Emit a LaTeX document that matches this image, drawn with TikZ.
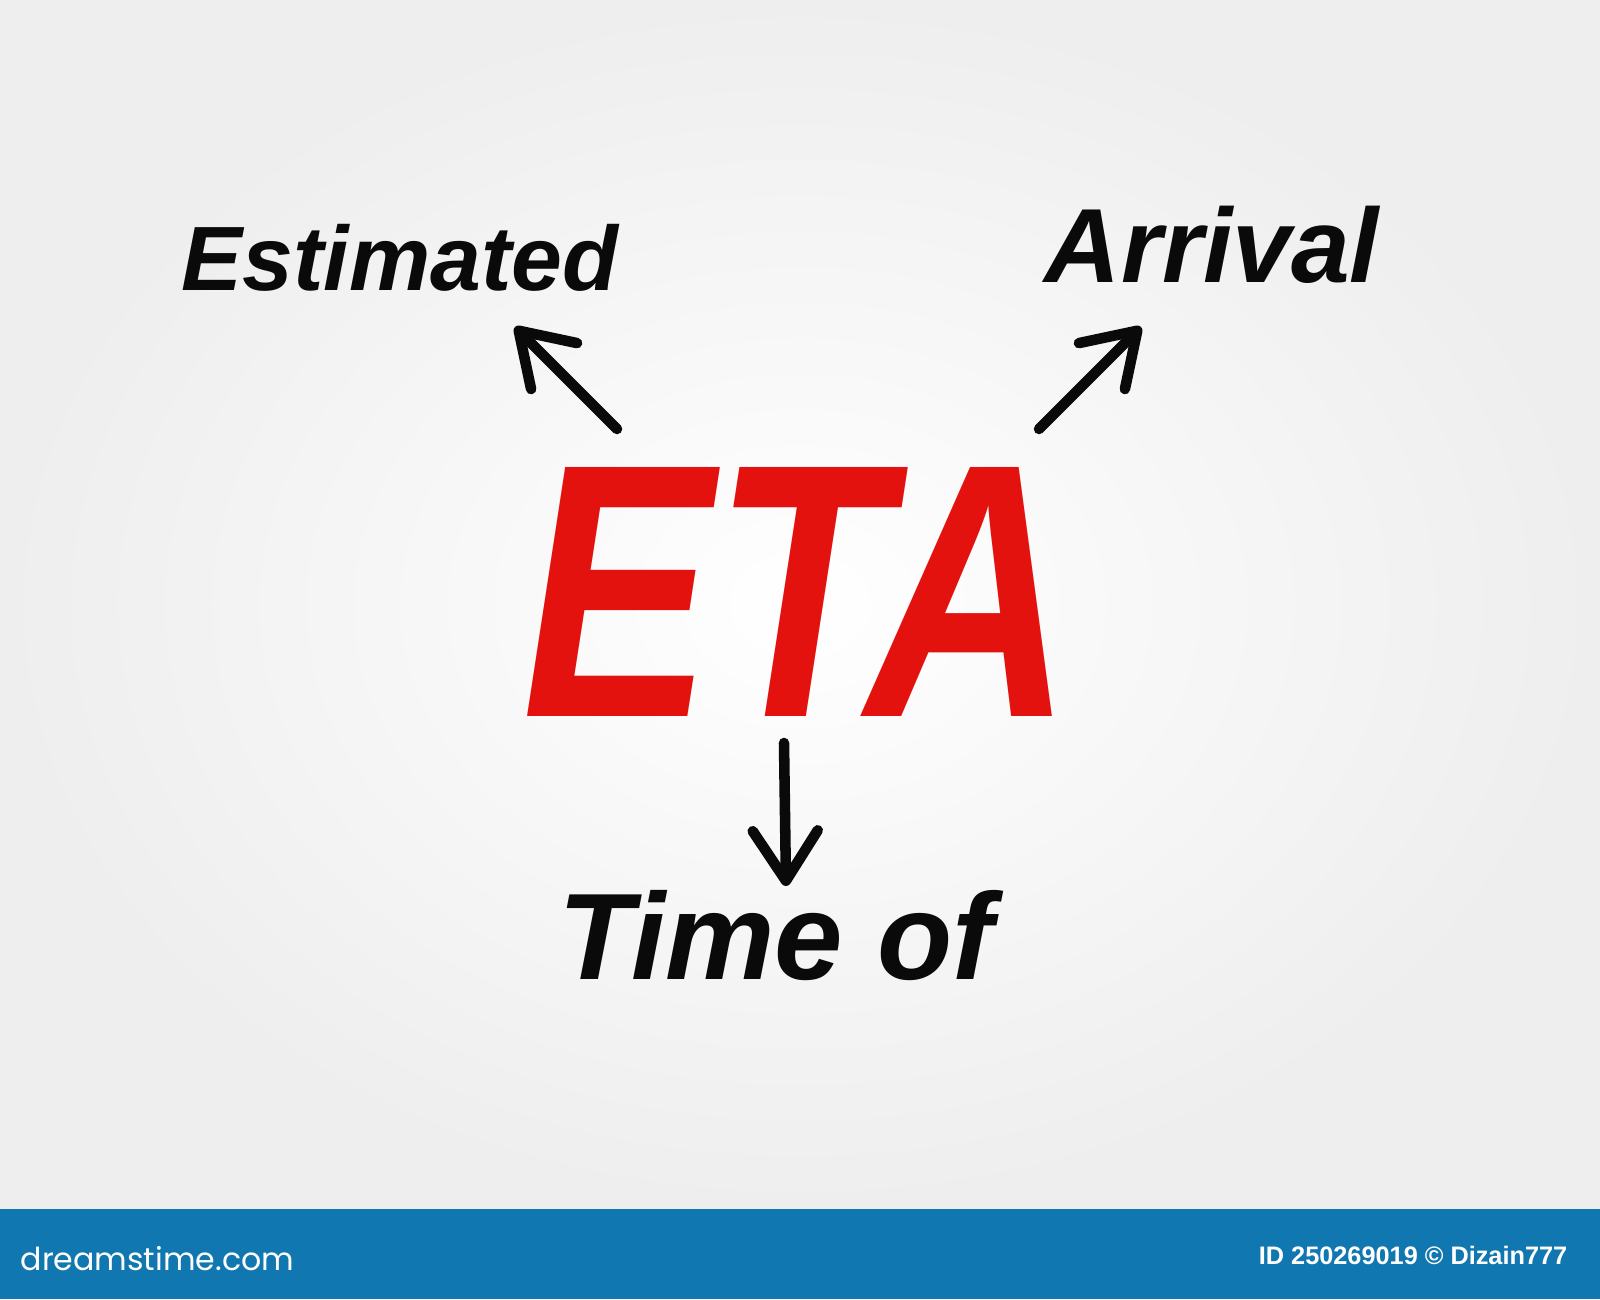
\documentclass[tikz,border=0pt]{standalone}
\usepackage{fontspec}
\setmainfont{Liberation Sans}
\newfontfamily\logofont{Poppins}
\usetikzlibrary{arrows.meta,positioning}
\definecolor{EtaRed}{HTML}{E3120F}
\definecolor{InkBlack}{HTML}{0A0A0A}
\definecolor{BarBlue}{HTML}{1077B0}
\definecolor{EdgeGray}{HTML}{EEEEEE}

\begin{document}
\begin{tikzpicture}[
          word/.style={inner sep=0pt, text=InkBlack, font=\bfseries\itshape},
          pointer/.style={draw=InkBlack, line width=3pt, line cap=round, -{Straight Barb[length=5mm,width=6.5mm,round]}}
        ]
          \useasboundingbox (0,0) rectangle (16,12.99);
          \shade[inner color=white, outer color=EdgeGray] (0,0.9) rectangle (16,12.99);
          \fill[BarBlue] (0,0) rectangle (16,0.9);
          % centre word and the three labels
          \node[inner sep=0pt, text=EtaRed, font=\bfseries\itshape\fontsize{103}{103}\selectfont] (eta) at (7.98,7.07) {\scalebox{0.79}[1]{ETA}};
          \node[word, font=\bfseries\itshape\fontsize{26}{26}\selectfont] (estimated) at (4.00,10.41) {Estimated};
          \node[word, font=\bfseries\itshape\fontsize{30}{30}\selectfont] (arrival) at (12.12,10.54) {Arrival};
          \node[word, font=\bfseries\itshape\fontsize{35}{35}\selectfont] (timeof) at (7.76,3.63) {Time of};
          % arrows
          \coordinate (estTail) at (6.17,8.70);
          \coordinate (estHead) at (5.15,9.72);
          \coordinate (arrTail) at (10.39,8.70);
          \coordinate (arrHead) at (11.41,9.72);
          \coordinate (timTail) at (7.84,5.56);
          \coordinate (timHead) at (7.86,4.13);
          \draw[pointer] (estTail) -- (estHead);
          \draw[pointer] (arrTail) -- (arrHead);
          \draw[pointer] (timTail) -- (timHead);
          % footer bar
          \node[inner sep=0pt, text=white, font=\logofont\fontsize{9}{9}\selectfont, anchor=west] (logo) at (0.20,0.40) {dreamstime.com};
          \node[inner sep=0pt, text=white, font=\bfseries\fontsize{7.2}{7.2}\selectfont, anchor=east] (imgid) at (15.68,0.44) {ID 250269019 © Dizain777};
        \end{tikzpicture}
\end{document}
